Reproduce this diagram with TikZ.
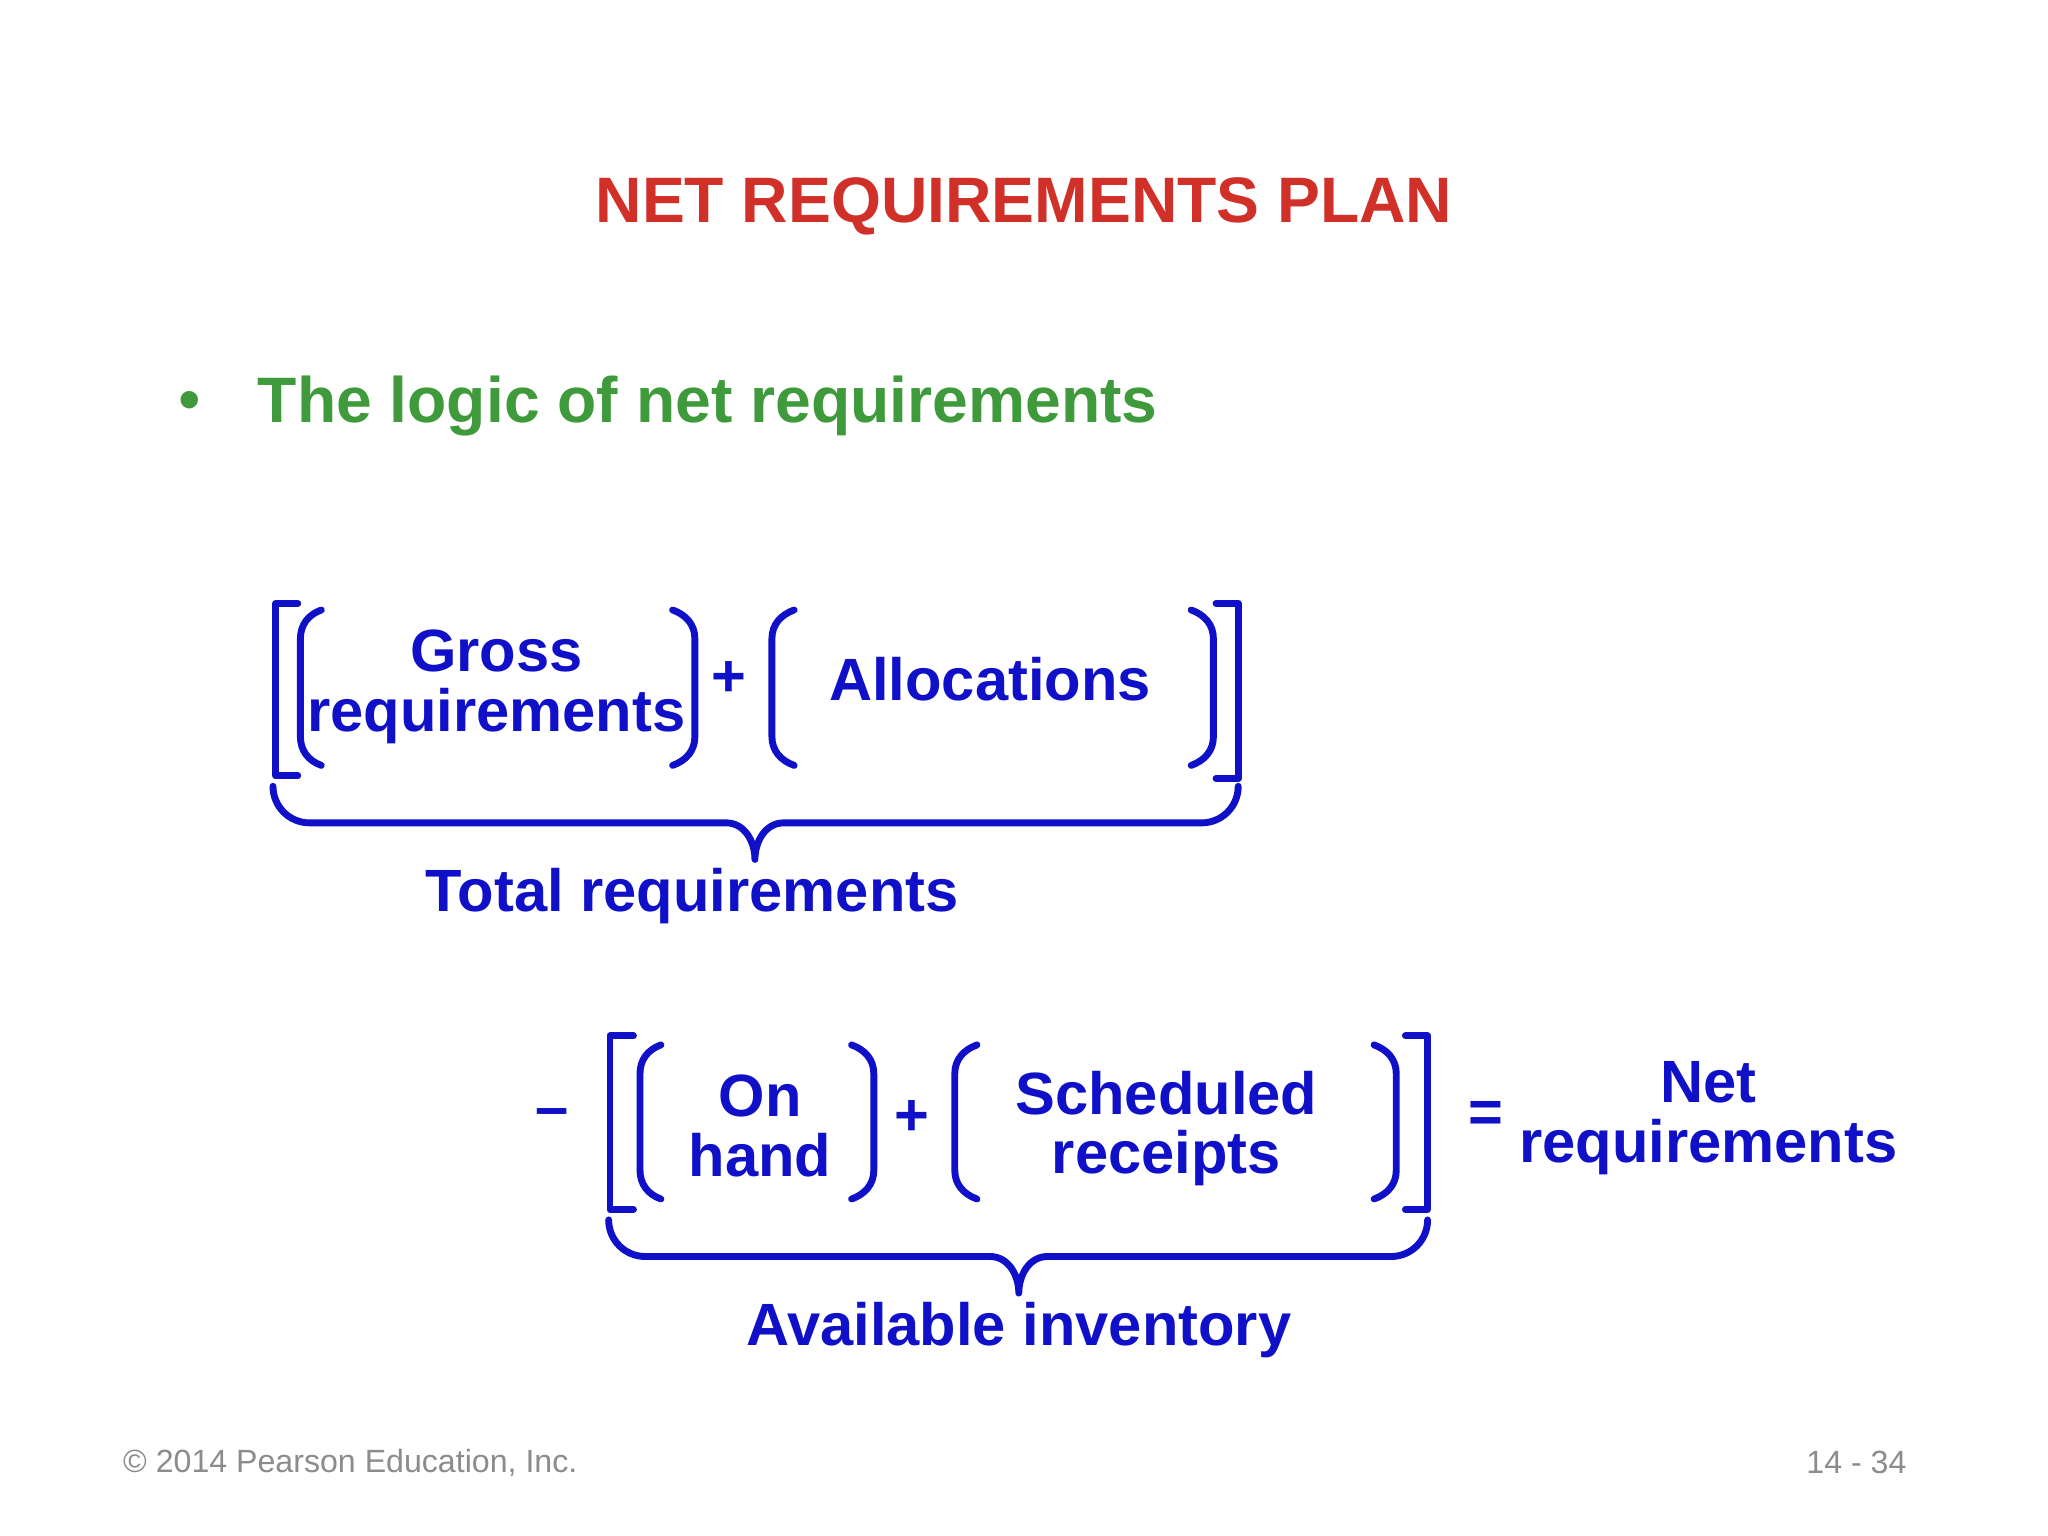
\documentclass[tikz,border=0pt]{standalone}
\usepackage{fontspec}
\setmainfont{Liberation Sans}
\definecolor{rb}{RGB}{16,16,200}
\definecolor{rt}{RGB}{208,48,40}
\definecolor{gt}{RGB}{62,154,58}
\definecolor{gy}{RGB}{140,140,140}
\tikzset{
 br/.style={draw=rb,line width=3pt,line cap=round,line join=round},
 bt/.style={text=rb,font=\fontsize{26}{28}\selectfont\bfseries,align=center,inner sep=0pt},
}
\newcommand{\lpar}[4]{\draw[br] (#2,#3) to[out=200,in=90] (#1,#3+22) -- (#1,#4-22) to[out=-90,in=160] (#2,#4);}
\newcommand{\rpar}[4]{\draw[br] (#1,#3) to[out=-20,in=90] (#2,#3+22) -- (#2,#4-22) to[out=-90,in=20] (#1,#4);}
\newcommand{\lsq}[4]{\draw[br] (#2,#3) -- (#1,#3) -- (#1,#4) -- (#2,#4);}
\newcommand{\rsq}[4]{\draw[br] (#1,#3) -- (#2,#3) -- (#2,#4) -- (#1,#4);}
\newcommand{\brc}[5]{\draw[br] (#1,#3) to[out=-90,in=180] (#1+28,#4) -- (#5-22,#4) to[out=0,in=90] (#5,#4+28) to[out=90,in=180] (#5+22,#4) -- (#2-28,#4) to[out=0,in=-90] (#2,#3);}
\begin{document}
\begin{tikzpicture}[x=0.02cm,y=-0.02cm]
\useasboundingbox[fill=white] (0,0) rectangle (1568,1176);
\node[text=rt,font=\fontsize{28}{30}\selectfont\bfseries] (title) at (784,158) {NET REQUIREMENTS PLAN};
\node[text=gt,font=\fontsize{28}{30}\selectfont] (bul) at (145,311) {•};
\node[text=gt,font=\fontsize{28}{30}\selectfont\bfseries,anchor=west,inner sep=0pt] (sub) at (197,311) {The logic of net requirements};
% first formula
\lsq{211}{228}{462}{594}
\lpar{230}{246}{467}{586}
\node[bt] (gross) at (380,526) {Gross\\[-2pt]requirements};
\rpar{515}{532}{467}{586}
\node[bt] (plus1) at (558,520) {+};
\lpar{591}{608}{467}{586}
\node[bt] (alloc) at (758,520) {Allocations};
\rpar{912}{929}{467}{586}
\rsq{931}{948}{462}{596}
\brc{209}{948}{602}{630}{578}
\node[bt] (total) at (530,686) {Total requirements};
% second formula
\node[bt] (minus) at (423,856) {–};
\lsq{467}{485}{793}{926}
\lpar{490}{506}{800}{918}
\node[bt] (onhand) at (582,862) {On\\[-2pt]hand};
\rpar{652}{669}{800}{918}
\node[bt] (plus2) at (698,856) {+};
\lpar{731}{748}{800}{918}
\node[bt] (sched) at (893,864) {Scheduled\\[-2pt]receipts};
\rpar{1052}{1069}{800}{918}
\rsq{1076}{1093}{793}{926}
\node[bt] (eq) at (1138,855) {=};
\node[bt] (net) at (1308,856) {Net\\[-2pt]requirements};
\brc{466}{1093}{934}{962}{780}
\node[bt] (avail) at (780,1018) {Available inventory};
% footer
\node[text=gy,font=\fontsize{14}{16}\selectfont,anchor=west,inner sep=0pt] (copy) at (94,1120) {© 2014 Pearson Education, Inc.};
\node[text=gy,font=\fontsize{14}{16}\selectfont,anchor=east,inner sep=0pt] (page) at (1460,1120) {14 - 34};
\end{tikzpicture}
\end{document}
